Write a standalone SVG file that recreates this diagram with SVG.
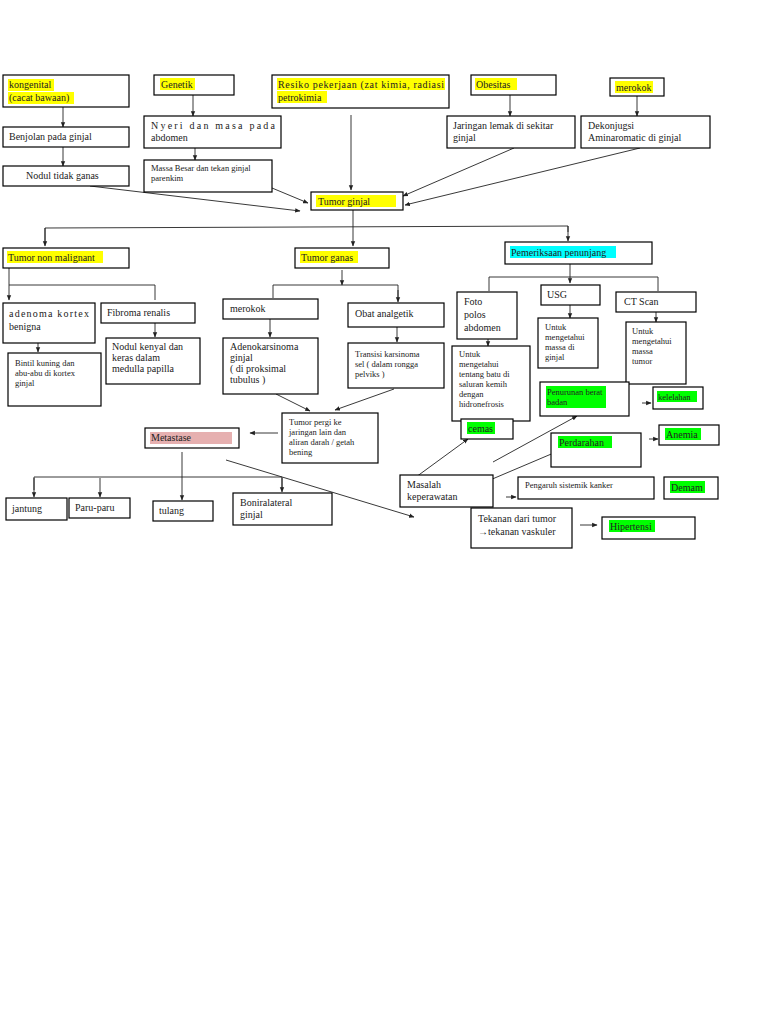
<svg xmlns="http://www.w3.org/2000/svg" width="768" height="1024" viewBox="0 0 768 1024">
<style>
rect.b{fill:#fff;stroke:#000;stroke-width:1.2}
text{font-family:"Liberation Serif",serif;font-size:10px;fill:#222}
text.s{font-size:8.5px}
.y{fill:#ffff00}.g{fill:#00ff00}.c{fill:#00ffff}.p{fill:#e6b0b0}
#conn line,#conn polyline{stroke:#222;stroke-width:0.9;fill:none;marker-end:url(#a)}
#conn .n{marker-end:none}
</style>
<defs><marker id="a" viewBox="0 0 10 10" refX="9" refY="5" markerWidth="6" markerHeight="6" orient="auto"><path d="M0,1L10,5L0,9z" fill="#222"/></marker></defs>
<rect width="768" height="1024" fill="#fff"/>
<g id="conn">
<line x1="63" y1="107" x2="63" y2="127"/>
<line x1="63" y1="147" x2="63" y2="166"/>
<line x1="193" y1="95" x2="193" y2="116"/>
<line x1="195" y1="148" x2="195" y2="160"/>
<line x1="351" y1="115" x2="351" y2="190"/>
<line x1="90" y1="186" x2="300" y2="211"/>
<line x1="272" y1="188" x2="308" y2="203"/>
<line x1="514" y1="148" x2="403" y2="196"/>
<line x1="640" y1="148" x2="405" y2="205"/>
<line x1="510" y1="95" x2="510" y2="116"/>
<line x1="637" y1="96" x2="637" y2="116"/>
<line x1="353" y1="210" x2="353" y2="246"/>
<polyline class="n" points="45,242 45,228 568,226 568,232"/>
<line x1="45" y1="228" x2="45" y2="246"/>
<line x1="568" y1="226" x2="568" y2="241"/>
<line x1="570" y1="264" x2="570" y2="283"/>
<polyline class="n" points="489,291 489,277 658,277 658,291"/>
<line x1="570" y1="305" x2="570" y2="318"/>
<line x1="656" y1="312" x2="656" y2="322"/>
<line x1="488" y1="339" x2="488" y2="346"/>
<line x1="342" y1="270" x2="342" y2="285"/>
<polyline class="n" points="273,298 273,285 398,285 398,300"/>
<line x1="398" y1="290" x2="398" y2="302"/>
<line x1="9" y1="268" x2="9" y2="300"/>
<polyline class="n" points="9,285 155,285 155,300"/>
<line x1="155" y1="323" x2="155" y2="337"/>
<line x1="38" y1="343" x2="38" y2="352"/>
<line x1="270" y1="319" x2="270" y2="337"/>
<line x1="397" y1="327" x2="397" y2="342"/>
<line x1="276" y1="394" x2="310" y2="411"/>
<line x1="394" y1="389" x2="335" y2="410"/>
<line x1="278" y1="433" x2="250" y2="433"/>
<polyline class="n" points="34,490 34,477 282,477 282,490"/>
<line x1="34" y1="478" x2="34" y2="497"/>
<line x1="100" y1="478" x2="100" y2="497"/>
<line x1="182" y1="452" x2="182" y2="500"/>
<line x1="282" y1="478" x2="282" y2="492"/>
<line x1="226" y1="460" x2="414" y2="517"/>
<line x1="416" y1="477" x2="468" y2="439"/>
<line x1="493" y1="462" x2="577" y2="416"/>
<line x1="490" y1="480" x2="556" y2="452"/>
<line x1="506" y1="497" x2="516" y2="497"/>
<line x1="642" y1="403" x2="651" y2="403"/>
<line x1="649" y1="439" x2="658" y2="439"/>
<line x1="580" y1="525" x2="597" y2="525"/>
</g>
<g id="kongenital"><rect class="b" x="3" y="75" width="126" height="32"/><rect class="y" x="8" y="79" width="46" height="12"/><rect class="y" x="8" y="92" width="66" height="12"/><text x="9" y="88">kongenital</text><text x="9" y="101">(cacat bawaan)</text></g>
<g id="genetik"><rect class="b" x="154" y="75" width="80" height="20"/><rect class="y" x="160" y="78" width="35" height="12"/><text x="161" y="88">Genetik</text></g>
<g id="resiko"><rect class="b" x="272" y="75" width="177" height="33"/><rect class="y" x="277" y="78" width="168" height="12"/><rect class="y" x="277" y="91" width="50" height="12"/><text x="278" y="88" textLength="166">Resiko pekerjaan (zat kimia, radiasi</text><text x="278" y="101">petrokimia</text></g>
<g id="obesitas"><rect class="b" x="471" y="75" width="85" height="20"/><rect class="y" x="475" y="78" width="42" height="12"/><text x="476" y="88">Obesitas</text></g>
<g id="merokok1"><rect class="b" x="610" y="78" width="54" height="18"/><rect class="y" x="615" y="81" width="38" height="12"/><text x="616" y="91">merokok</text></g>
<g id="benjolan"><rect class="b" x="3" y="127" width="126" height="20"/><text x="9" y="140">Benjolan pada ginjal</text></g>
<g id="nodul"><rect class="b" x="3" y="166" width="126" height="20"/><text x="26" y="179">Nodul tidak ganas</text></g>
<g id="nyeri"><rect class="b" x="144" y="116" width="137" height="32"/><text x="151" y="129" textLength="124">Nyeri dan masa pada</text><text x="151" y="141">abdomen</text></g>
<g id="massa"><rect class="b" x="144" y="160" width="128" height="32"/><text class="s" x="151" y="171">Massa Besar dan tekan ginjal</text><text class="s" x="151" y="181">parenkim</text></g>
<g id="jaringan"><rect class="b" x="447" y="116" width="128" height="32"/><text x="453" y="129">Jaringan lemak di sekitar</text><text x="453" y="141">ginjal</text></g>
<g id="dekonjugsi"><rect class="b" x="581" y="116" width="129" height="32"/><text x="588" y="129">Dekonjugsi</text><text x="588" y="141">Aminaromatic di ginjal</text></g>
<g id="tumorginjal"><rect class="b" x="311" y="192" width="92" height="18"/><rect class="y" x="316" y="195" width="80" height="12"/><text x="318" y="205">Tumor ginjal</text></g>
<g id="nonmalignant"><rect class="b" x="3" y="248" width="126" height="20"/><rect class="y" x="7" y="251" width="96" height="12"/><text x="8" y="261">Tumor non malignant</text></g>
<g id="ganas"><rect class="b" x="295" y="248" width="94" height="20"/><rect class="y" x="300" y="251" width="58" height="12"/><text x="301" y="261">Tumor ganas</text></g>
<g id="pemeriksaan"><rect class="b" x="505" y="242" width="147" height="22"/><rect class="c" x="510" y="246" width="106" height="12"/><text x="511" y="256">Pemeriksaan penunjang</text></g>
<g id="adenoma"><rect class="b" x="3" y="303" width="92" height="40"/><text x="9" y="317" textLength="80">adenoma kortex</text><text x="9" y="330">benigna</text></g>
<g id="fibroma"><rect class="b" x="101" y="303" width="94" height="20"/><text x="107" y="316">Fibroma renalis</text></g>
<g id="bintil"><rect class="b" x="8" y="353" width="93" height="53"/><text class="s" x="15" y="366">Bintil kuning dan</text><text class="s" x="15" y="376">abu-abu di kortex</text><text class="s" x="15" y="386">ginjal</text></g>
<g id="nodulkenyal"><rect class="b" x="106" y="338" width="94" height="46"/><text x="112" y="350">Nodul kenyal dan</text><text x="112" y="361">keras dalam</text><text x="112" y="372">medulla papilla</text></g>
<g id="merokok2"><rect class="b" x="223" y="299" width="95" height="20"/><text x="230" y="312">merokok</text></g>
<g id="obat"><rect class="b" x="348" y="303" width="96" height="24"/><text x="355" y="317">Obat analgetik</text></g>
<g id="adenokarsinoma"><rect class="b" x="223" y="338" width="95" height="56"/><text x="230" y="350">Adenokarsinoma</text><text x="230" y="361">ginjal</text><text x="230" y="372">( di proksimal</text><text x="230" y="383">tubulus )</text></g>
<g id="transisi"><rect class="b" x="348" y="343" width="96" height="45"/><text class="s" x="355" y="357">Transisi karsinoma</text><text class="s" x="355" y="367">sel ( dalam rongga</text><text class="s" x="355" y="377">pelviks )</text></g>
<g id="tumorpergi"><rect class="b" x="282" y="413" width="96" height="50"/><text class="s" x="289" y="425">Tumor pergi ke</text><text class="s" x="289" y="435">jaringan lain dan</text><text class="s" x="289" y="445">aliran darah / getah</text><text class="s" x="289" y="455">bening</text></g>
<g id="metastase"><rect class="b" x="145" y="428" width="94" height="20"/><rect class="p" x="150" y="432" width="82" height="12"/><text x="151" y="441">Metastase</text></g>
<g id="foto"><rect class="b" x="457" y="292" width="60" height="47"/><text x="464" y="305">Foto</text><text x="464" y="318">polos</text><text x="464" y="331">abdomen</text></g>
<g id="usg"><rect class="b" x="541" y="285" width="59" height="20"/><text x="547" y="298">USG</text></g>
<g id="ctscan"><rect class="b" x="616" y="292" width="80" height="20"/><text x="624" y="305">CT Scan</text></g>
<g id="untukusg"><rect class="b" x="538" y="318" width="60" height="50"/><text class="s" x="545" y="330">Untuk</text><text class="s" x="545" y="340">mengetahui</text><text class="s" x="545" y="350">massa di</text><text class="s" x="545" y="360">ginjal</text></g>
<g id="untukct"><rect class="b" x="626" y="322" width="60" height="62"/><text class="s" x="632" y="334">Untuk</text><text class="s" x="632" y="344">mengetahui</text><text class="s" x="632" y="354">massa</text><text class="s" x="632" y="364">tumor</text></g>
<g id="untukfoto"><rect class="b" x="452" y="346" width="78" height="75"/><text class="s" x="459" y="357">Untuk</text><text class="s" x="459" y="367">mengetahui</text><text class="s" x="459" y="377">tentang batu di</text><text class="s" x="459" y="387">saluran kemih</text><text class="s" x="459" y="397">dengan</text><text class="s" x="459" y="407">hidronefrosis</text></g>
<g id="penurunan"><rect class="b" x="540" y="382" width="89" height="34"/><rect class="g" x="546" y="386" width="60" height="22"/><text class="s" x="547" y="395">Penurunan berat</text><text class="s" x="547" y="405">badan</text></g>
<g id="kelelahan"><rect class="b" x="653" y="387" width="50" height="22"/><rect class="g" x="657" y="391" width="40" height="11"/><text class="s" x="658" y="400">kelelahan</text></g>
<g id="cemas"><rect class="b" x="461" y="419" width="52" height="20"/><rect class="g" x="467" y="422" width="28" height="12"/><text x="468" y="432">cemas</text></g>
<g id="perdarahan"><rect class="b" x="551" y="433" width="90" height="34"/><rect class="g" x="558" y="436" width="54" height="12"/><text x="559" y="446">Perdarahan</text></g>
<g id="anemia"><rect class="b" x="659" y="425" width="60" height="20"/><rect class="g" x="665" y="428" width="36" height="12"/><text x="666" y="438">Anemia</text></g>
<g id="masalah"><rect class="b" x="400" y="475" width="93" height="32"/><text x="407" y="488">Masalah</text><text x="407" y="500">keperawatan</text></g>
<g id="pengaruh"><rect class="b" x="518" y="477" width="136" height="22"/><text class="s" x="525" y="488">Pengaruh sistemik kanker</text></g>
<g id="demam"><rect class="b" x="664" y="477" width="54" height="22"/><rect class="g" x="670" y="481" width="35" height="12"/><text x="671" y="491">Demam</text></g>
<g id="tekanan"><rect class="b" x="471" y="508" width="101" height="40"/><text x="478" y="522">Tekanan dari tumor</text><text x="478" y="535">→tekanan vaskuler</text></g>
<g id="hipertensi"><rect class="b" x="602" y="517" width="93" height="22"/><rect class="g" x="609" y="520" width="46" height="12"/><text x="610" y="530">Hipertensi</text></g>
<g id="jantung"><rect class="b" x="6" y="498" width="61" height="22"/><text x="12" y="512">jantung</text></g>
<g id="paru"><rect class="b" x="69" y="498" width="61" height="20"/><text x="75" y="511">Paru-paru</text></g>
<g id="tulang"><rect class="b" x="153" y="501" width="60" height="20"/><text x="159" y="514">tulang</text></g>
<g id="boniralateral"><rect class="b" x="233" y="493" width="99" height="32"/><text x="240" y="506">Boniralateral</text><text x="240" y="518">ginjal</text></g>
</svg>
